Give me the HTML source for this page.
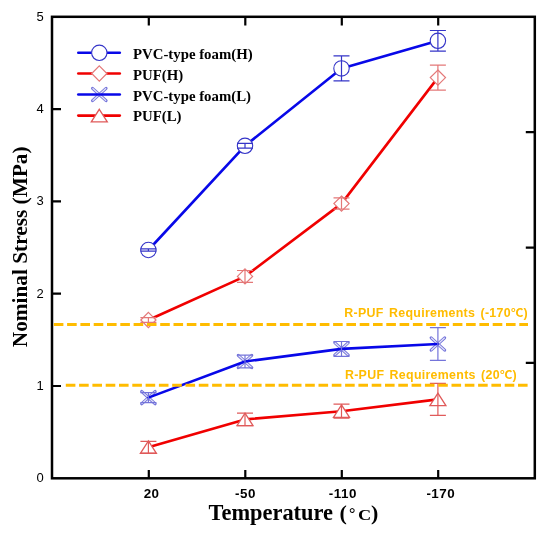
<!DOCTYPE html>
<html><head><meta charset="utf-8"><title>Nominal Stress vs Temperature</title>
<style>
html,body{margin:0;padding:0;background:#fff;}
body{width:550px;height:533px;overflow:hidden;}
svg{display:block;}
.lg{font-family:"Liberation Serif","Times New Roman",serif;font-weight:bold;font-size:14.8px;fill:#000;}
.yt{font-family:"Liberation Sans",Arial,sans-serif;font-size:13px;fill:#000;text-anchor:end;}
.xt{font-family:"Liberation Sans","Noto Sans CJK KR",sans-serif;font-weight:bold;font-size:13.4px;letter-spacing:0.5px;fill:#000;text-anchor:middle;}
.at{font-family:"Liberation Serif","Times New Roman",serif;font-weight:bold;font-size:21px;fill:#000;}
.rq{font-family:"Liberation Sans","Noto Sans CJK KR",sans-serif;font-weight:bold;font-size:12.4px;letter-spacing:0.3px;word-spacing:1.6px;fill:#FFBC00;}
</style></head>
<body>
<svg width="550" height="533" viewBox="0 0 550 533">
<rect x="52.0" y="16.8" width="482.8" height="461.5" fill="none" stroke="#000" stroke-width="2.5"/>
<path d="M52.0,386.0 L61.0,386.0 M52.0,293.7 L61.0,293.7 M52.0,201.4 L61.0,201.4 M52.0,109.1 L61.0,109.1 M525.8,132.2 L534.8,132.2 M525.8,247.6 L534.8,247.6 M525.8,362.9 L534.8,362.9 M148.8,16.8 L148.8,25.6 M148.8,478.3 L148.8,470.1 M245.3,16.8 L245.3,25.6 M245.3,478.3 L245.3,470.1 M341.8,16.8 L341.8,25.6 M341.8,478.3 L341.8,470.1 M438.2,16.8 L438.2,25.6 M438.2,478.3 L438.2,470.1" stroke="#000" stroke-width="2.2" fill="none"/>
<path d="M148.4,250.0 L245.0,145.8 L341.5,68.4 L437.9,40.8" fill="none" stroke="#0808E8" stroke-width="2.6" stroke-linejoin="round" stroke-linecap="round"/>
<path d="M148.4,320.0 L245.0,276.4 L341.5,203.6 L437.9,77.6" fill="none" stroke="#F00000" stroke-width="2.6" stroke-linejoin="round" stroke-linecap="round"/>
<path d="M141.6,391.4 L155.2,403.8 M155.2,391.4 L141.6,403.8" fill="none" stroke="#7474DA" stroke-width="3.0" stroke-linecap="round"/><path d="M141.6,391.4 L155.2,403.8 M155.2,391.4 L141.6,403.8" fill="none" stroke="#E2E2F8" stroke-width="1.2" stroke-linecap="butt"/>
<path d="M238.2,355.3 L251.8,367.7 M251.8,355.3 L238.2,367.7" fill="none" stroke="#7474DA" stroke-width="3.0" stroke-linecap="round"/><path d="M238.2,355.3 L251.8,367.7 M251.8,355.3 L238.2,367.7" fill="none" stroke="#E2E2F8" stroke-width="1.2" stroke-linecap="butt"/>
<path d="M334.7,342.7 L348.3,355.1 M348.3,342.7 L334.7,355.1" fill="none" stroke="#7474DA" stroke-width="3.0" stroke-linecap="round"/><path d="M334.7,342.7 L348.3,355.1 M348.3,342.7 L334.7,355.1" fill="none" stroke="#E2E2F8" stroke-width="1.2" stroke-linecap="butt"/>
<path d="M431.1,337.8 L444.7,350.2 M444.7,337.8 L431.1,350.2" fill="none" stroke="#7474DA" stroke-width="3.0" stroke-linecap="round"/><path d="M431.1,337.8 L444.7,350.2 M444.7,337.8 L431.1,350.2" fill="none" stroke="#E2E2F8" stroke-width="1.2" stroke-linecap="butt"/>
<path d="M148.4,397.6 L245.0,361.5 L341.5,348.9 L437.9,344.0" fill="none" stroke="#0808E8" stroke-width="2.6" stroke-linejoin="round" stroke-linecap="round"/>
<path d="M148.4,447.2 L245.0,419.4 L341.5,411.2 L437.9,399.4" fill="none" stroke="#F00000" stroke-width="2.6" stroke-linejoin="round" stroke-linecap="round"/>
<circle cx="148.4" cy="250.0" r="7.7" fill="#fff" stroke="#3535C8" stroke-width="1.1"/>
<circle cx="245.0" cy="145.8" r="7.7" fill="#fff" stroke="#3535C8" stroke-width="1.1"/>
<circle cx="341.5" cy="68.4" r="7.7" fill="#fff" stroke="#3535C8" stroke-width="1.1"/>
<circle cx="437.9" cy="40.8" r="7.7" fill="#fff" stroke="#3535C8" stroke-width="1.1"/>
<path d="M148.4,248.8 L148.4,251.2 M140.4,248.8 L156.4,248.8 M140.4,251.2 L156.4,251.2" fill="none" stroke="#3535C8" stroke-width="1.2"/>
<path d="M245.0,143.4 L245.0,148.2 M237.0,143.4 L253.0,143.4 M237.0,148.2 L253.0,148.2" fill="none" stroke="#3535C8" stroke-width="1.2"/>
<path d="M341.5,55.9 L341.5,80.9 M333.5,55.9 L349.5,55.9 M333.5,80.9 L349.5,80.9" fill="none" stroke="#3535C8" stroke-width="1.2"/>
<path d="M437.9,30.5 L437.9,51.1 M429.9,30.5 L445.9,30.5 M429.9,51.1 L445.9,51.1" fill="none" stroke="#3535C8" stroke-width="1.2"/>
<path d="M148.4,312.4 L156.0,320.0 L148.4,327.6 L140.8,320.0 Z" fill="#fff" stroke="#E47878" stroke-width="1.2"/>
<path d="M245.0,268.8 L252.6,276.4 L245.0,284.0 L237.4,276.4 Z" fill="#fff" stroke="#E47878" stroke-width="1.2"/>
<path d="M341.5,196.0 L349.1,203.6 L341.5,211.2 L333.9,203.6 Z" fill="#fff" stroke="#E47878" stroke-width="1.2"/>
<path d="M437.9,70.0 L445.5,77.6 L437.9,85.2 L430.3,77.6 Z" fill="#fff" stroke="#E47878" stroke-width="1.2"/>
<path d="M148.4,317.7 L148.4,322.3 M140.4,317.7 L156.4,317.7 M140.4,322.3 L156.4,322.3" fill="none" stroke="#E47878" stroke-width="1.2"/>
<path d="M245.0,270.5 L245.0,282.3 M237.0,270.5 L253.0,270.5 M237.0,282.3 L253.0,282.3" fill="none" stroke="#E47878" stroke-width="1.2"/>
<path d="M341.5,197.9 L341.5,209.2 M333.5,197.9 L349.5,197.9 M333.5,209.2 L349.5,209.2" fill="none" stroke="#E47878" stroke-width="1.2"/>
<path d="M437.9,65.1 L437.9,90.1 M429.9,65.1 L445.9,65.1 M429.9,90.1 L445.9,90.1" fill="none" stroke="#E47878" stroke-width="1.2"/>
<path d="M148.4,392.6 L148.4,402.6 M140.4,392.6 L156.4,392.6 M140.4,402.6 L156.4,402.6" fill="none" stroke="#7474DA" stroke-width="1.2"/>
<path d="M245.0,355.1 L245.0,367.9 M237.0,355.1 L253.0,355.1 M237.0,367.9 L253.0,367.9" fill="none" stroke="#7474DA" stroke-width="1.2"/>
<path d="M341.5,341.5 L341.5,356.3 M333.5,341.5 L349.5,341.5 M333.5,356.3 L349.5,356.3" fill="none" stroke="#7474DA" stroke-width="1.2"/>
<path d="M437.9,327.7 L437.9,360.3 M429.9,327.7 L445.9,327.7 M429.9,360.3 L445.9,360.3" fill="none" stroke="#7474DA" stroke-width="1.2"/>
<path d="M148.4,440.9 L156.4,453.4 L140.4,453.4 Z" fill="#fff" stroke="#E05A5A" stroke-width="1.3" stroke-linejoin="miter"/>
<path d="M245.0,413.1 L253.0,425.6 L237.0,425.6 Z" fill="#fff" stroke="#E05A5A" stroke-width="1.3" stroke-linejoin="miter"/>
<path d="M341.5,404.9 L349.5,417.4 L333.5,417.4 Z" fill="#fff" stroke="#E05A5A" stroke-width="1.3" stroke-linejoin="miter"/>
<path d="M437.9,393.1 L445.9,405.6 L429.9,405.6 Z" fill="#fff" stroke="#E05A5A" stroke-width="1.3" stroke-linejoin="miter"/>
<path d="M148.4,441.3 L148.4,453.1 M140.4,441.3 L156.4,441.3 M140.4,453.1 L156.4,453.1" fill="none" stroke="#E05A5A" stroke-width="1.2"/>
<path d="M245.0,413.2 L245.0,425.6 M237.0,413.2 L253.0,413.2 M237.0,425.6 L253.0,425.6" fill="none" stroke="#E05A5A" stroke-width="1.2"/>
<path d="M341.5,404.2 L341.5,418.2 M333.5,404.2 L349.5,404.2 M333.5,418.2 L349.5,418.2" fill="none" stroke="#E05A5A" stroke-width="1.2"/>
<path d="M437.9,383.4 L437.9,415.4 M429.9,383.4 L445.9,383.4 M429.9,415.4 L445.9,415.4" fill="none" stroke="#E05A5A" stroke-width="1.2"/>
<path d="M53.8,324.6 L528,324.6" stroke="#FFBC00" stroke-width="3" stroke-dasharray="9.6 3.7" fill="none"/>
<path d="M65.8,385.3 L528,385.3" stroke="#FFBC00" stroke-width="3" stroke-dasharray="9.6 3.7" fill="none"/>
<path d="M92.5,88.3 L106.1,100.7 M106.1,88.3 L92.5,100.7" fill="none" stroke="#7474DA" stroke-width="3.0" stroke-linecap="round"/><path d="M92.5,88.3 L106.1,100.7 M106.1,88.3 L92.5,100.7" fill="none" stroke="#E2E2F8" stroke-width="1.2" stroke-linecap="butt"/>
<path d="M78.3,52.8 L119.8,52.8" stroke="#0808E8" stroke-width="2.6" stroke-linecap="round"/>
<path d="M78.3,73.5 L119.8,73.5" stroke="#F00000" stroke-width="2.6" stroke-linecap="round"/>
<path d="M78.3,94.5 L119.8,94.5" stroke="#0808E8" stroke-width="2.6" stroke-linecap="round"/>
<path d="M78.3,115.6 L119.8,115.6" stroke="#F00000" stroke-width="2.6" stroke-linecap="round"/>
<circle cx="99.3" cy="52.8" r="7.7" fill="#fff" stroke="#3535C8" stroke-width="1.1"/>
<path d="M99.3,65.9 L106.9,73.5 L99.3,81.1 L91.7,73.5 Z" fill="#fff" stroke="#E47878" stroke-width="1.2"/>
<path d="M99.3,109.3 L107.3,121.8 L91.3,121.8 Z" fill="#fff" stroke="#E05A5A" stroke-width="1.3" stroke-linejoin="miter"/>
<text x="133.0" y="59.0" class="lg">PVC-type foam(H)</text>
<text x="133.0" y="79.5" class="lg">PUF(H)</text>
<text x="133.0" y="100.6" class="lg">PVC-type foam(L)</text>
<text x="133.0" y="121.3" class="lg">PUF(L)</text>
<text x="43.8" y="482.3" class="yt">0</text>
<text x="43.8" y="390.0" class="yt">1</text>
<text x="43.8" y="297.7" class="yt">2</text>
<text x="43.8" y="205.4" class="yt">3</text>
<text x="43.8" y="113.1" class="yt">4</text>
<text x="43.8" y="20.8" class="yt">5</text>
<text x="151.6" y="498.4" class="xt">20</text>
<text x="245.5" y="498.4" class="xt">-50</text>
<text x="342.9" y="498.4" class="xt">-110</text>
<text x="440.8" y="498.4" class="xt">-170</text>
<text x="208.6" y="520.4" class="at" style="font-size:22.4px">Temperature</text>
<text x="339.6" y="520.4" class="at" style="font-size:22px">(</text>
<text x="349.0" y="518.5" class="at" style="font-size:16px">°</text>
<text transform="translate(358.0,520.2) scale(1.22,1)" class="at" style="font-size:15px">C</text>
<text x="370.9" y="520.4" class="at" style="font-size:22px">)</text>
<text transform="translate(27.2,246.8) rotate(-90)" class="at" text-anchor="middle" style="font-size:21.3px">Nominal Stress (MPa)</text>
<text transform="translate(344.3,317.2) scale(1,0.96)" class="rq">R-PUF Requirements (-170℃)</text>
<text transform="translate(344.9,379.2) scale(1,0.96)" class="rq">R-PUF Requirements (20℃)</text>
</svg>
</body></html>
